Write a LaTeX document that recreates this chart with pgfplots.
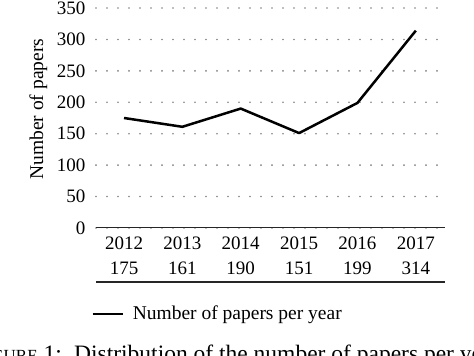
\documentclass[border=0pt]{standalone}
\usepackage{fontspec}
\setmainfont{Liberation Serif}
\usepackage{pgfplots}
\pgfplotsset{compat=1.18}
\begin{document}
\fontsize{19}{23}\selectfont
\begin{tikzpicture}[x=1pt,y=1pt]
\useasboundingbox (0,0) rectangle (474,356);
\clip (0,0) rectangle (474,356);
\begin{axis}[
  at={(96pt,128pt)}, anchor=south west,
  scale only axis, width=349pt, height=220pt,
  xmin=-0.48, xmax=5.5, ymin=0, ymax=350,
  axis line style={draw=none},
  major tick length=0pt,
  ytick={0,50,...,350},
  ymajorgrids,
  grid style={black!50, line width=1.8pt, line cap=round, dash pattern=on 0pt off 11pt},
  xtick={0,1,2,3,4,5},
  xticklabels={{2012\\175},{2013\\161},{2014\\190},{2015\\151},{2016\\199},{2017\\314}},
  xticklabel style={align=center, font=\fontsize{19}{25}\selectfont, anchor=north, yshift=-2pt},
  yticklabel style={font=\fontsize{19}{23}\selectfont, anchor=east, xshift=-4pt},
  /pgf/number format/assume math mode=true,
  ylabel={Number of papers},
  ylabel style={at={(axis description cs:-0.165,0.54)}, anchor=center, font=\fontsize{19.5}{23}\selectfont},
  legend style={draw=none, fill=none, at={(-0.014,-0.391)}, anchor=west, inner sep=0pt,
    font=\fontsize{19.5}{23}\selectfont,
    /tikz/every odd column/.append style={column sep=7pt}},
  legend cell align=left,
  legend image code/.code={\draw[#1] (0pt,0pt) -- (30pt,0pt);},
]
\addplot[black, line width=2.5pt, line join=round] coordinates {
  (0,175) (1,161) (2,190) (3,151) (4,199) (5,314)
};
\addlegendentry{Number of papers per year}
\draw[black!85, line width=1.5pt] (rel axis cs:0,0) -- (rel axis cs:1,0);
\end{axis}
\draw[black!85, line width=1.5pt] (96,74) -- (445,74);
\node[anchor=base east, inner sep=0pt, font=\fontsize{23.5}{26}\selectfont] at (62,-6) {F{\fontsize{17}{19}\selectfont IGURE} 1:};
\node[anchor=base west, inner sep=0pt, font=\fontsize{23.5}{26}\selectfont] at (74,-6) {Distribution of the number of papers per year.};
\end{tikzpicture}
\end{document}
